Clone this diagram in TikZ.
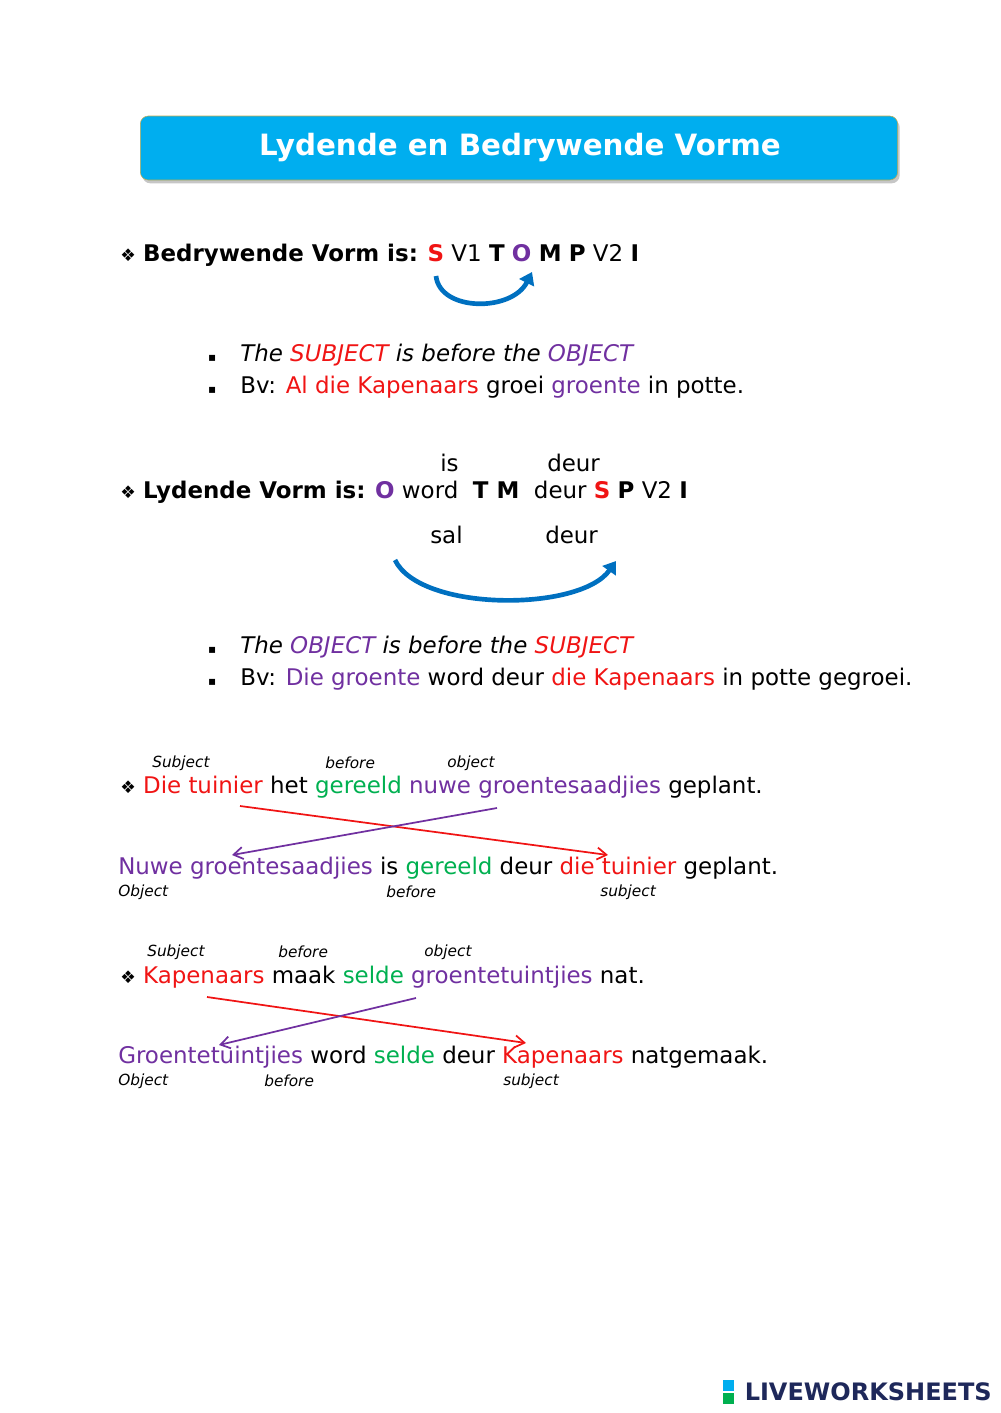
\documentclass[tikz,border=0pt]{standalone}
\usepackage{fontspec}
\setmainfont{DejaVu Sans}
\usetikzlibrary{arrows.meta,shadows}
\definecolor{tcyan}{RGB}{0,174,239}
\definecolor{tred}{RGB}{240,20,20}
\definecolor{tpur}{RGB}{112,48,160}
\definecolor{tgrn}{RGB}{0,176,80}
\definecolor{tblue}{RGB}{0,112,192}
\definecolor{navy}{RGB}{30,40,90}
\newcommand{\R}[1]{\textcolor{tred}{#1}}
\newcommand{\Pu}[1]{\textcolor{tpur}{#1}}
\newcommand{\G}[1]{\textcolor{tgrn}{#1}}
\newcommand{\dia}{{\fontsize{13}{14}\selectfont ❖}}
\begin{document}
\begin{tikzpicture}[x=0.75pt,y=-0.75pt,
  txt/.style={anchor=west,inner sep=0pt,font=\fontsize{17.2}{20}\selectfont},
  lbl/.style={anchor=west,inner sep=0pt,font=\fontsize{11.5}{13}\selectfont\itshape},
  arcarrow/.style={tblue,line width=3.5pt,-{Triangle[length=9pt,width=12pt]}},
  cross/.style={line width=1.3pt,-{Straight Barb[length=7pt,width=9pt]}}]
\useasboundingbox (0,0) rectangle (1000,1413);
\node[draw={rgb,255:red,190;green,170;blue,80},fill=tcyan,rounded corners=6pt,minimum width=568pt,minimum height=48pt,
  drop shadow={shadow xshift=1.5pt,shadow yshift=-2.5pt,opacity=0.45}] (title) at (519,148) {};
\node[text=white,font=\fontsize{22}{26}\selectfont\bfseries] (tt) at (520,148) {Lydende en Bedrywende Vorme};

\node[txt] (l1) at (120,255) {\dia\ \textbf{Bedrywende Vorm is:} \textbf{\R{S}} V1 \textbf{T} \textbf{\Pu{O}} \textbf{M} \textbf{P} V2 \textbf{I}};
\coordinate (a1) at (436,276); \coordinate (b1) at (532,272);
\draw[arcarrow] (a1) .. controls (440,312) and (512,312) .. (b1);

\node[txt] (b11) at (240,355) {\llap{\small ▪\hspace{18pt}}\textit{The \R{SUBJECT} is before the \Pu{OBJECT}}};
\node[txt] (b12) at (240,387) {\llap{\small ▪\hspace{18pt}}Bv: \R{Al die Kapenaars} groei \Pu{groente} in potte.};

\node[txt] (is) at (440,463) {is};
\node[txt] (deur1) at (547,463) {deur};
\node[txt] (l2) at (120,492) {\dia\ \textbf{Lydende Vorm is:} \textbf{\Pu{O}} word\ \ \textbf{T M}\ \ deur \textbf{\R{S}} \textbf{P} V2 \textbf{I}};
\node[txt] (sal) at (430,535) {sal};
\node[txt] (deur2) at (545,535) {deur};
\coordinate (a2) at (395,560); \coordinate (b2) at (616,561);
\draw[arcarrow] (a2) .. controls (420,612) and (580,612) .. (b2);

\node[txt] (b21) at (240,647) {\llap{\small ▪\hspace{18pt}}\textit{The \Pu{OBJECT} is before the \R{SUBJECT}}};
\node[txt] (b22) at (240,679) {\llap{\small ▪\hspace{18pt}}Bv: \Pu{Die groente} word deur \R{die Kapenaars} in potte gegroei.};

\node[lbl] (s1) at (152,763) {Subject};
\node[lbl] (be1) at (325,763) {before};
\node[lbl] (o1) at (447,763) {object};
\node[txt] (e1) at (120,787) {\dia\ \R{Die tuinier} het \G{gereeld} \Pu{nuwe groentesaadjies} geplant.};
\node[txt] (e1b) at (118,868) {\Pu{Nuwe groentesaadjies} is \G{gereeld} deur \R{die tuinier} geplant.};
\node[lbl] (o1b) at (118,892) {Object};
\node[lbl] (be1b) at (386,892) {before};
\node[lbl] (s1b) at (600,892) {subject};
\coordinate (r1s) at (240,806); \coordinate (r1e) at (608,855);
\coordinate (p1s) at (497,808); \coordinate (p1e) at (232,855);
\draw[cross,tred] (r1s) -- (r1e);
\draw[cross,tpur] (p1s) -- (p1e);

\node[lbl] (s2) at (147,952) {Subject};
\node[lbl] (be2) at (278,952) {before};
\node[lbl] (o2) at (424,952) {object};
\node[txt] (e2) at (120,977) {\dia\ \R{Kapenaars} maak \G{selde} \Pu{groentetuintjies} nat.};
\node[txt] (e2b) at (118,1057) {\Pu{Groentetuintjies} word \G{selde} deur \R{Kapenaars} natgemaak.};
\node[lbl] (o2b) at (118,1081) {Object};
\node[lbl] (be2b) at (264,1081) {before};
\node[lbl] (s2b) at (503,1081) {subject};
\coordinate (r2s) at (207,997); \coordinate (r2e) at (526,1043);
\coordinate (p2s) at (416,998); \coordinate (p2e) at (219,1045);
\draw[cross,tred] (r2s) -- (r2e);
\draw[cross,tpur] (p2s) -- (p2e);

\node[anchor=east,inner sep=0pt,text=navy,font=\fontsize{18}{20}\selectfont\bfseries] (lw) at (992,1392) {LIVEWORKSHEETS};
\node[fill=tgrn,minimum size=8,inner sep=0pt] (lg1) at ([xshift=-12,yshift=-5]lw.west) {};
\node[fill=tcyan,minimum size=8,inner sep=0pt] (lg2) at ([xshift=-12,yshift=5]lw.west) {};
\end{tikzpicture}
\end{document}
